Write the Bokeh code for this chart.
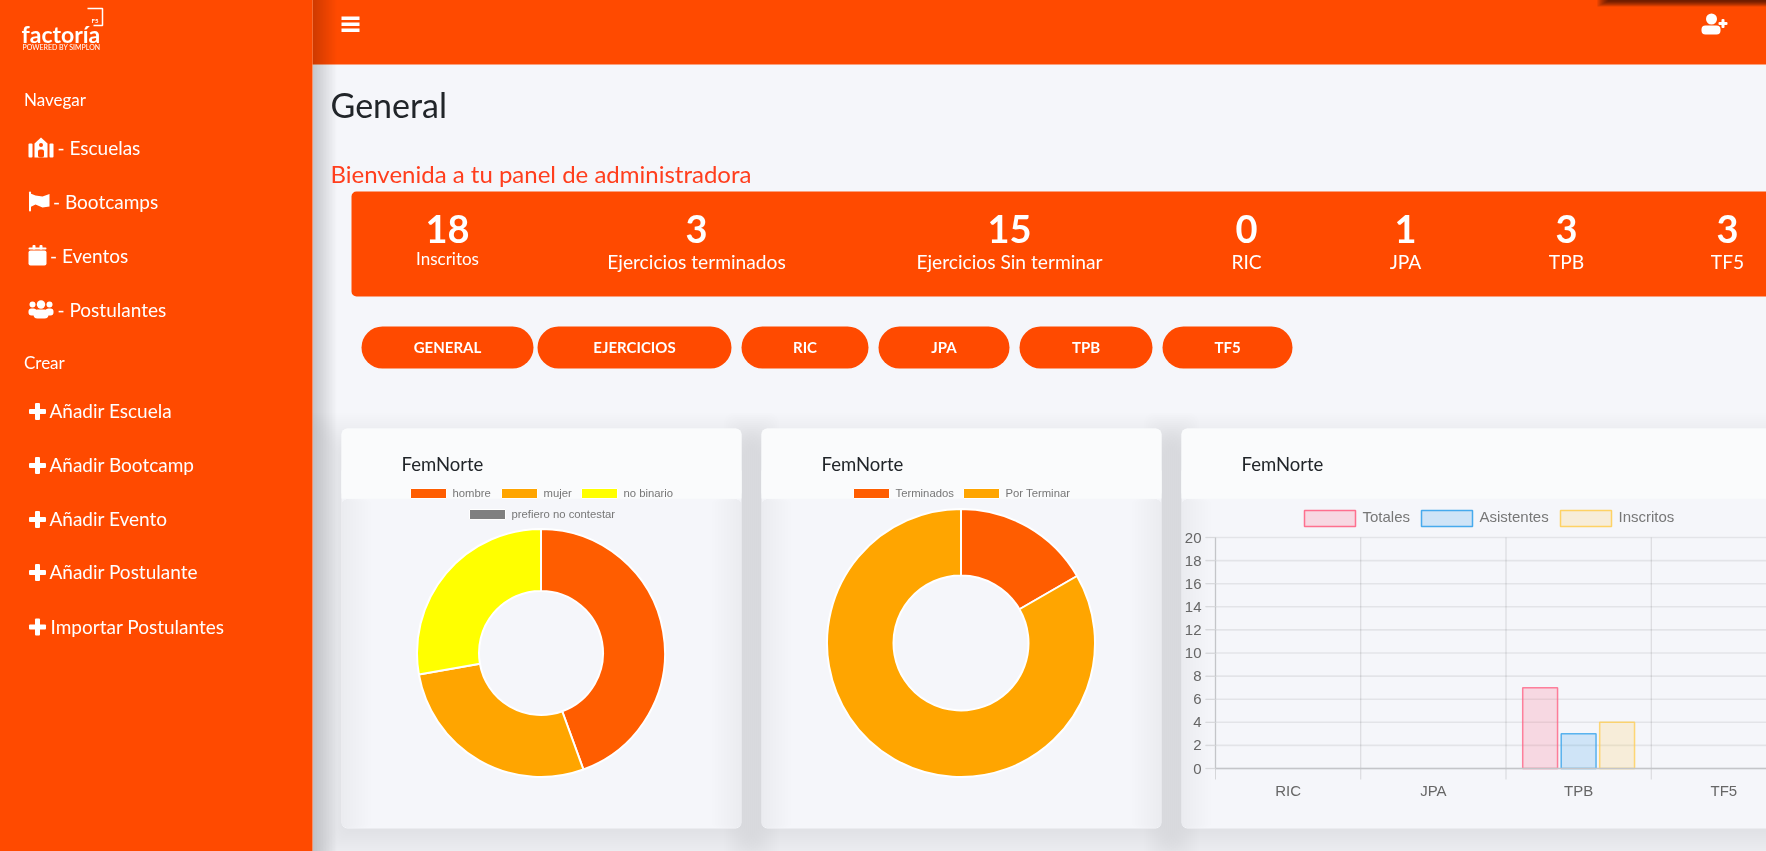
from math import pi

from bokeh.core.properties import value
from bokeh.embed import file_html
from bokeh.models import FixedTicker, LinearAxis, Range1d
from bokeh.plotting import figure
from bokeh.resources import INLINE

# datos del panel
menu_navegar = ["- Escuelas", "- Bootcamps", "- Eventos", "- Postulantes"]
menu_crear = ["Añadir Escuela", "Añadir Bootcamp", "Añadir Evento", "Añadir Postulante", "Importar Postulantes"]
resumen_valores = ["18", "3", "15", "0", "1", "3", "3"]
resumen_etiquetas = ["Inscritos", "Ejercicios terminados", "Ejercicios Sin terminar", "RIC", "JPA", "TPB", "TF5"]
botones = ["GENERAL", "EJERCICIOS", "RIC", "JPA", "TPB", "TF5"]

generos = ["hombre", "mujer", "no binario", "prefiero no contestar"]
valores_genero = [8, 5, 5, 0]
colores_genero = ["#ff5d00", "#ffa500", "#ffff00", "#808080"]

ejercicios = ["Terminados", "Por Terminar"]
valores_ejercicios = [3, 15]
colores_ejercicios = ["#ff5d00", "#ffa500"]

cursos = ["RIC", "JPA", "TPB", "TF5"]
totales = [0, 0, 7, 0]
asistentes = [0, 0, 3, 0]
inscritos = [0, 0, 4, 0]
series_barras = ["Totales", "Asistentes", "Inscritos"]
colores_barras = ["#ff6384", "#36a2eb", "#ffce56"]
ticks_y = [0, 2, 4, 6, 8, 10, 12, 14, 16, 18, 20]

NARANJA = "#ff4a00"
FONDO = "#f5f6fa"
CABECERA = "#fafbfc"
FUENTE = "Lato"
ARIAL = "Liberation Sans"

W, H = 1766, 851
BAR_X0, BAR_UX = 1215, 145.25
BAR_Y0, BAR_UY = 768, 11.55

# un pixel de mas por cada lado para dejar fuera el borde del lienzo
p = figure(width=W + 2, height=H + 2, output_backend="svg", toolbar_location=None,
           x_range=Range1d(-1, W + 1), y_range=Range1d(H + 1, -1),
           x_axis_location=None, y_axis_location=None,
           background_fill_color=FONDO, border_fill_color=NARANJA,
           outline_line_color=None, min_border=0)
p.grid.visible = False
p.styles = {"position": "fixed", "left": "-1px", "top": "-1px"}
p.extra_x_ranges["barras_x"] = Range1d((-1 - BAR_X0) / BAR_UX, (W + 1 - BAR_X0) / BAR_UX)
p.extra_y_ranges["barras_y"] = Range1d((BAR_Y0 - H - 1) / BAR_UY, (BAR_Y0 + 1) / BAR_UY)


def texto(x, y, s, size, color="white", style="normal", align="left", font=FUENTE):
    p.text(x=[x], y=[y], text=[s], text_font=value(font), text_font_size=f"{size}px", text_color=color,
           text_font_style=style, text_align=align, text_baseline="middle")


def caja(l, t, r, b, color="white", alpha=1.0, radio=0, linea=None, ancho=1):
    p.quad(left=[l], right=[r], top=[t], bottom=[b], fill_color=color, fill_alpha=alpha,
           line_color=linea, line_width=ancho, border_radius=radio)


def cruz(cx, cy, d, g, color="white"):
    caja(cx - d, cy - g, cx + d, cy + g, color, radio=1)
    caja(cx - g, cy - d, cx + g, cy + d, color, radio=1)


def poligono(xs, ys, color="white"):
    p.patch(xs, ys, fill_color=color, line_color=None)


def circulo(x, y, r, color="white"):
    p.circle(x=[x], y=[y], radius=r, fill_color=color, line_color=None)


# sombras de las tarjetas
tarjetas = [(341, 741), (761, 1161), (1181, 1800)]
for l, r in tarjetas:
    for k in range(20):
        s = 38 - k * 2
        caja(l - s, 428 - s + 22, r + s, 828 + s + 4, "#000000", 0.0055, radio=10)

# sombra lateral y barras superiores
caja(312, -5, W + 5, 64, NARANJA)
for k in range(16):
    caja(312, -5, 312 + (16 - k) * 1.5, H + 5, "#000000", 0.012)
caja(-5, -5, 312, H + 5, NARANJA)
for k in range(6):
    caja(1597 + k * 2, -5, W + 5, 6 - k, "#000000", 0.13)

# logo
texto(21, 33, "factoría", 23, style="bold")
texto(22, 46, "POWERED BY SIMPLON", 7)
p.line([87, 102, 102, 93], [8, 8, 25, 25], line_color="white", line_width=1.5)
texto(91, 20, "F5", 6, style="bold")

# menu lateral
texto(23.5, 99, "Navegar", 17)
for y, s, x in zip([147, 201, 255, 308.5], menu_navegar, [57, 52.5, 49.5, 57]):
    texto(x, y, s, 19)
texto(23.5, 361.5, "Crear", 17)
for y, s, x in zip([410, 464, 518, 571, 625.5], menu_crear, [49, 49, 49, 49, 50]):
    cruz(37, y + 1, 8.5, 2.5)
    texto(x, y, s, 19)

# iconos del menu
caja(28, 143, 32, 157, radio=1)
caja(49, 143, 53, 157, radio=1)
poligono([34, 34, 40.5, 47, 47], [157, 143, 137, 143, 157])
caja(37.5, 149, 43.5, 157, NARANJA, radio=2)
circulo(40.5, 144.5, 2, NARANJA)
caja(28.5, 191, 30.5, 211, radio=1)
poligono([30, 35, 42, 49, 49, 42, 35, 30], [193, 195, 196, 193.5, 206, 207, 204, 206.5])
caja(28, 250, 46, 265, radio=2)
caja(28, 247, 46, 249, radio=1)
caja(32, 244.5, 35, 249, radio=1)
caja(39, 244.5, 42, 249, radio=1)
for cx, cy, r in [(32, 304, 3), (49, 304, 3), (40.5, 304, 4.2)]:
    circulo(cx, cy, r)
caja(28, 308, 36, 315, radio=3)
caja(45, 308, 53, 315, radio=3)
caja(33, 309, 48, 318, radio=4)

# barra superior
for y in [16, 22, 28]:
    caja(341, y, 359, y + 3.4)
circulo(1711, 18.5, 5.5)
caja(1701, 25, 1720, 34, radio=4)
cruz(1722.5, 23, 4.5, 1.5)

# titulos
texto(330, 104, "General", 34, color="#212529")
texto(330, 173, "Bienvenida a tu panel de administradora", 24, color="#ff3e1d")

# franja de resumen
caja(351, 191, 1800, 296, NARANJA, radio=5)
x_resumen = [447, 696, 1009, 1246, 1405, 1566, 1727]
for i, (x, v, s) in enumerate(zip(x_resumen, resumen_valores, resumen_etiquetas)):
    texto(x, 228, v, 38, style="bold", align="center")
    if i == 0:
        texto(x, 258, s, 17, align="center")
    else:
        texto(x, 261, s, 19.2, align="center")

# botones
x_botones = [(361, 533), (537, 731), (741, 868), (878, 1009), (1019, 1152), (1162, 1292)]
for (l, r), s in zip(x_botones, botones):
    caja(l, 326, r, 368, NARANJA, radio=21)
    texto((l + r) / 2, 346, s, 15, style="bold", align="center")

# tarjetas
for l, r in tarjetas:
    caja(l, 428, r, 828, FONDO, radio=6)
    for k in range(10):
        caja(l, 498, l + (10 - k) * 3, 828, "#000000", 0.003, radio=6)
        if r < W:
            caja(r - (10 - k) * 3, 498, r, 828, "#000000", 0.004, radio=6)
    caja(l, 428, r, 498, CABECERA, radio=6)
    caja(l, 470, r, 498, CABECERA)
    texto(l + 60, 463, "FemNorte", 18.5, color="#212529")


def donut(cx, cy, r_ext, r_int, valores, colores):
    total = sum(valores)
    inicio, fin, color = [], [], []
    acumulado = 0
    for v, c in zip(valores, colores):
        if v > 0:
            inicio.append(pi / 2 - 2 * pi * acumulado / total)
            acumulado += v
            fin.append(pi / 2 - 2 * pi * acumulado / total)
            color.append(c)
    p.annular_wedge(x=[cx] * len(inicio), y=[cy] * len(inicio), inner_radius=r_int, outer_radius=r_ext,
                    inner_radius_units="screen", outer_radius_units="screen",
                    start_angle=inicio, end_angle=fin, direction="clock",
                    fill_color=color, line_color="white", line_width=2)


def leyenda_donut(xs, ys, nombres, colores):
    for x, y, s, c in zip(xs, ys, nombres, colores):
        caja(x, y - 5, x + 36, y + 5, c, linea="white", ancho=1)
        texto(x + 42, y - 1, s, 11.3, color="#777777", font=ARIAL)


leyenda_donut([410, 501, 581, 469], [493, 493, 493, 514], generos, colores_genero)
donut(540.5, 652.5, 124, 62, valores_genero, colores_genero)

leyenda_donut([853, 963], [493, 493], ejercicios, colores_ejercicios)
donut(960.5, 642.5, 134, 67.5, valores_ejercicios, colores_ejercicios)

# grafico de barras
p.segment(x0=[1205] * len(ticks_y), x1=[W] * len(ticks_y), y0=ticks_y, y1=ticks_y,
          y_range_name="barras_y", line_color="#000000", line_alpha=0.07, line_width=1.6)
x_rejilla = list(range(len(cursos) + 1))
p.segment(x0=x_rejilla, x1=x_rejilla, y0=[537] * len(x_rejilla), y1=[779] * len(x_rejilla),
          x_range_name="barras_x", line_color="#000000", line_alpha=0.13, line_width=1)

ancho_barra = 0.24
paso = 0.265
for j, (serie, color) in enumerate(zip([totales, asistentes, inscritos], colores_barras)):
    xs = [i + 0.5 + (j - 1) * paso for i, v in enumerate(serie) if v > 0]
    tops = [v for v in serie if v > 0]
    p.vbar(x=xs, top=tops, bottom=0, width=ancho_barra, x_range_name="barras_x", y_range_name="barras_y",
           fill_color=color, fill_alpha=0.2, line_color=color, line_alpha=0.8, line_width=1.5)

eje_y = LinearAxis(y_range_name="barras_y", fixed_location=BAR_X0, ticker=FixedTicker(ticks=ticks_y),
                   bounds=(0, 20), axis_line_color="#c4c5c9", axis_line_width=1.3,
                   major_tick_line_color="#d9dadd", major_tick_in=0, major_tick_out=10,
                   minor_tick_line_color=None, major_label_text_font=ARIAL,
                   major_label_text_font_size="15px", major_label_text_color="#666666", major_label_standoff=4)
p.add_layout(eje_y, "left")

ticks_x = [i + 0.5 for i in range(len(cursos))]
eje_x = LinearAxis(x_range_name="barras_x", fixed_location=BAR_Y0, ticker=FixedTicker(ticks=ticks_x),
                   major_label_overrides=dict(zip(ticks_x, cursos)), bounds=(0, len(cursos)),
                   axis_line_color="#c4c5c9", axis_line_width=1.3, major_tick_line_color=None,
                   minor_tick_line_color=None, major_label_text_font=ARIAL,
                   major_label_text_font_size="15px", major_label_text_color="#666666", major_label_standoff=7)
p.add_layout(eje_x, "below")

for x, s, c in zip([1304, 1421, 1560], series_barras, colores_barras):
    p.quad(left=[x], right=[x + 51], top=[510], bottom=[526], fill_color=c, fill_alpha=0.2,
           line_color=c, line_alpha=0.9, line_width=1.5)
    texto(x + 58, 516, s, 15, color="#777777", font=ARIAL)

open("out.html", "w").write(file_html(p, INLINE))
